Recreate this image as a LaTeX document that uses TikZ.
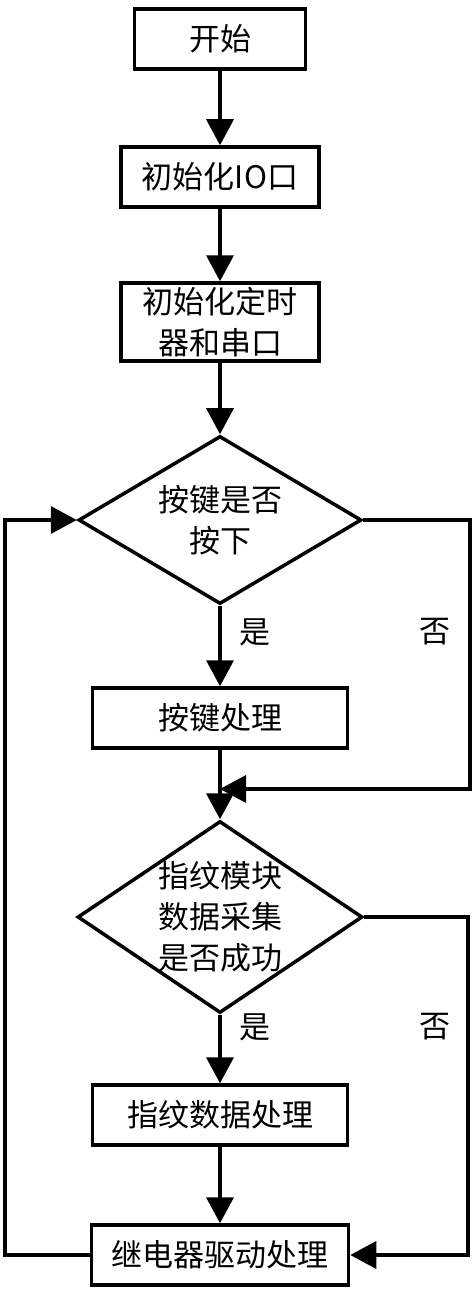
\documentclass[tikz,border=0pt]{standalone}
\usepackage{fontspec}
\setmainfont{Noto Sans CJK SC}
\usetikzlibrary{shapes.geometric,arrows.meta}

\begin{document}
\begin{tikzpicture}[x=1pt,y=-1pt,
  flowbox/.style={draw, line width=3.5pt, minimum width=#1, minimum height=60pt,
    inner sep=0pt, align=center, font=\fontsize{31}{41}\selectfont},
  decision/.style={draw, diamond, line width=3.5pt, inner sep=0pt},
  decisiontext/.style={font=\fontsize{31}{41}\selectfont, align=center},
  flowline/.style={line width=3.5pt, -{Triangle[length=26pt,width=27pt]}},
  branch/.style={font=\fontsize{31}{41}\selectfont}]
  \useasboundingbox (0,0) rectangle (474,1311);

  % main column
  \node[flowbox=171pt] (start) at (220,39) {开始};
  \node[flowbox=198pt] (initio) at (220,177) {初始化IO口};
  \node[flowbox=198pt, minimum height=78pt] (inittimer) at (220,322) {初始化定时\\器和串口};
  \node[decision, minimum width=283pt, minimum height=168pt,
    label={[decisiontext]center:按键是否\\按下}] (keycheck) at (220,520) {};
  \node[flowbox=255pt] (keyproc) at (220,718) {按键处理};
  \node[decision, minimum width=285pt, minimum height=192pt,
    label={[decisiontext]center:指纹模块\\数据采集\\是否成功}] (fpcheck) at (220,917) {};
  \node[flowbox=255pt] (fpproc) at (220,1115) {指纹数据处理};
  \node[flowbox=257pt] (relay) at (220,1255) {继电器驱动处理};

  % yes / no labels
  \node[branch] (yes1) at (255,632) {是};
  \node[branch] (no1) at (435,632) {否};
  \node[branch] (yes2) at (255,1027) {是};
  \node[branch] (no2) at (435,1027) {否};

  % rails for the side loops
  \coordinate (leftrail) at (5,1255);
  \coordinate (rail1) at (470,520);
  \coordinate (join1) at (220,789);
  \coordinate (rail2) at (468,917);

  \draw[flowline] (start) -- (initio);
  \draw[flowline] (initio) -- (inittimer);
  \draw[flowline] (inittimer) -- (keycheck);
  \draw[flowline] (keycheck) -- (keyproc);
  \draw[flowline] (keyproc) -- (fpcheck);
  \draw[flowline] (fpcheck) -- (fpproc);
  \draw[flowline] (fpproc) -- (relay);
  \draw[flowline] (keycheck.east) -- (rail1) |- (join1);
  \draw[flowline] (fpcheck.east) -- (rail2) |- (relay.east);
  \draw[flowline] (relay.west) -- (leftrail) |- (keycheck.west);
\end{tikzpicture}
\end{document}
